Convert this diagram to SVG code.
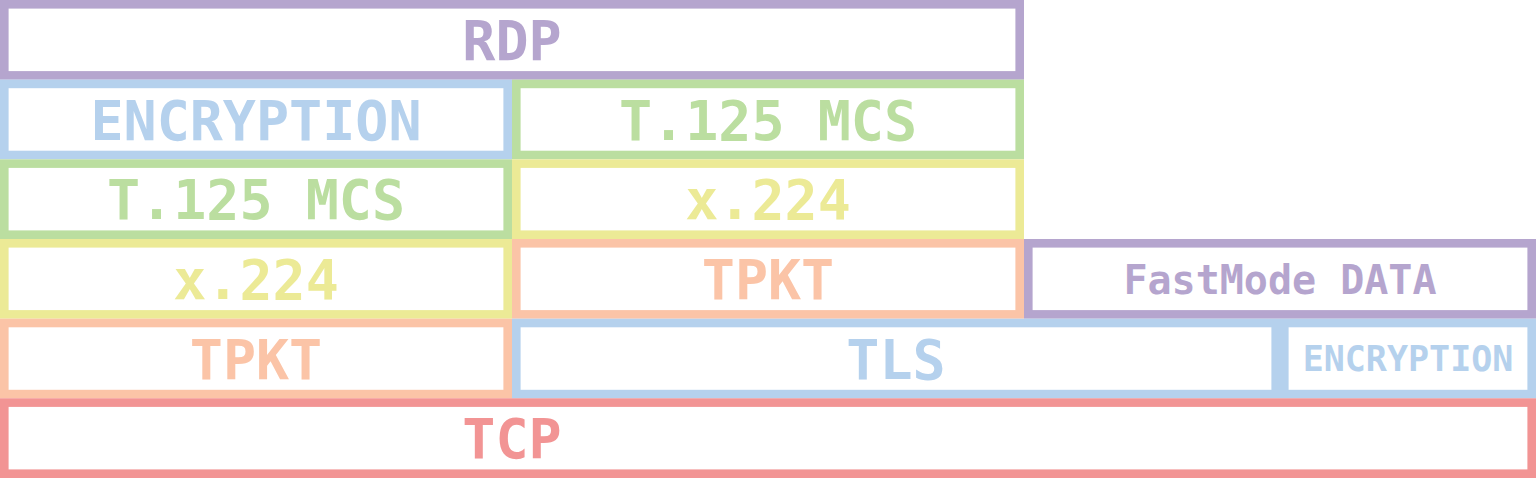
<svg xmlns="http://www.w3.org/2000/svg" width="1536" height="478" viewBox="0 0 1536 478">
<style>
rect{fill:#ffffff;stroke-width:8.6}
text{font-family:"DejaVu Sans Mono","Liberation Mono",monospace;font-weight:bold;text-anchor:middle}
.big{font-size:55px}
.mid{font-size:40px}
.sm{font-size:35px}
.purple rect{stroke:#b5a5ce}.purple text{fill:#b5a5ce}
.blue rect{stroke:#b5d1ed}.blue text{fill:#b5d1ed}
.green rect{stroke:#bbdea0}.green text{fill:#bbdea0}
.yellow rect{stroke:#ecea96}.yellow text{fill:#ecea96}
.orange rect{stroke:#fbc4a7}.orange text{fill:#fbc4a7}
.red rect{stroke:#f29494}.red text{fill:#f29494}
</style>
<rect x="0" y="0" width="1536" height="478" style="fill:#ffffff;stroke:none"/>
<g id="rdp" class="purple"><rect x="4.3" y="4.3" width="1015.4" height="71.1"/><text class="big" x="512" y="59.9">RDP</text></g>
<g id="encryption1" class="blue"><rect x="4.3" y="83.9" width="503.4" height="71.1"/><text class="big" x="256" y="139.5">ENCRYPTION</text></g>
<g id="mcs1" class="green"><rect x="516.3" y="83.9" width="503.4" height="71.1"/><text class="big" x="768" y="139.5">T.125 MCS</text></g>
<g id="mcs2" class="green"><rect x="4.3" y="163.6" width="503.4" height="71.1"/><text class="big" x="256" y="219.2">T.125 MCS</text></g>
<g id="x224a" class="yellow"><rect x="516.3" y="163.6" width="503.4" height="71.1"/><text class="big" x="768" y="219.2">x.224</text></g>
<g id="x224b" class="yellow"><rect x="4.3" y="243.3" width="503.4" height="71.1"/><text class="big" x="256" y="298.9">x.224</text></g>
<g id="tpkt1" class="orange"><rect x="516.3" y="243.3" width="503.4" height="71.1"/><text class="big" x="768" y="298.9">TPKT</text></g>
<g id="fastmode" class="purple"><rect x="1028.3" y="243.3" width="503.4" height="71.1"/><text class="mid" x="1280" y="293.5">FastMode DATA</text></g>
<g id="tpkt2" class="orange"><rect x="4.3" y="323" width="503.4" height="71.1"/><text class="big" x="256" y="378.5">TPKT</text></g>
<g id="tls" class="blue"><rect x="516.3" y="323" width="759.4" height="71.1"/><text class="big" x="896" y="378.5">TLS</text></g>
<g id="encryption2" class="blue"><rect x="1284.3" y="323" width="247.4" height="71.1"/><text class="sm" x="1408" y="371.3">ENCRYPTION</text></g>
<g id="tcp" class="red"><rect x="4.3" y="402.6" width="1527.4" height="71.1"/><text class="big" x="512" y="458.2">TCP</text></g>
<g id="connectors"></g>
</svg>
